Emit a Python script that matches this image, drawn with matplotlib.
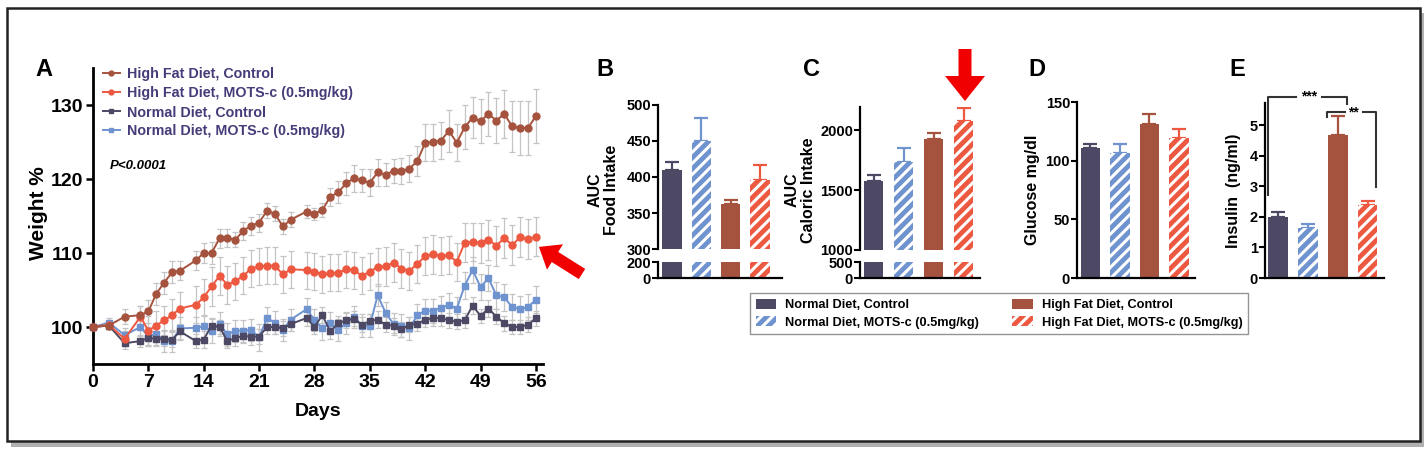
import matplotlib
matplotlib.use("Agg")
import matplotlib.pyplot as plt
from matplotlib.lines import Line2D
from matplotlib.patches import Patch, Rectangle, FancyArrow
from matplotlib.transforms import IdentityTransform

plt.rcParams["font.family"] = ["Liberation Sans", "DejaVu Sans"]
plt.rcParams["font.weight"] = "bold"
plt.rcParams["axes.labelweight"] = "bold"
plt.rcParams["hatch.linewidth"] = 2.2

# ---- Panel A: body weight (% of day 0) ----
days = [0, 2, 4, 6, 7, 8, 9, 10, 11, 13, 14, 15, 16, 17, 18, 19, 20, 21, 22, 23, 24, 25,
        27, 28, 29, 30, 31, 32, 33, 34, 35, 36, 37, 38, 39, 40, 41, 42, 43, 44, 45, 46,
        47, 48, 49, 50, 51, 52, 53, 54, 55, 56]

hfd_ctrl = [100.0, 100.2, 101.4, 101.6, 102.1, 104.5, 106.0, 107.4, 107.6,
            109.0, 110.0, 110.0, 112.0, 112.0, 111.8, 113.0, 113.7, 114.1, 115.7, 115.3, 113.6, 114.5,
            115.6, 115.3, 115.8, 117.6, 118.2, 119.4, 120.1, 119.8, 119.5, 120.9, 120.6, 121.1, 121.1,
            121.4, 122.4, 124.9, 125.0, 125.2, 126.5, 124.9, 127.0, 128.3, 127.8, 128.8, 127.9, 128.8,
            127.1, 126.9, 126.9, 128.5]
hfd_ctrl_err = [0, 0.5, 1.0, 1.3, 1.5, 1.5, 1.5, 1.5, 1.3,
                1.3, 1.4, 1.5, 1.3, 1.2, 1.0, 1.2, 1.2, 1.2, 1.0, 1.0, 1.0, 1.0,
                0.9, 0.8, 1.0, 1.2, 1.5, 1.6, 1.8, 1.6, 1.8, 1.8, 1.6, 1.6, 1.8, 1.8, 2.0, 2.5,
                2.5, 2.5, 2.8, 2.5, 3.0, 2.8, 3.0, 3.0, 3.0, 3.2, 3.5, 3.6, 3.6, 3.6]

hfd_mots = [100.0, 100.3, 98.4, 101.4, 99.5, 100.2, 100.9, 101.6, 102.5,
            103.0, 104.0, 105.5, 106.9, 105.7, 106.2, 106.9, 107.9, 108.2, 108.3, 108.3, 107.1, 107.8,
            107.7, 107.5, 107.1, 107.3, 107.3, 107.8, 107.7, 106.9, 107.5, 108.1, 108.2, 108.7, 107.9,
            107.6, 108.5, 109.6, 109.8, 109.6, 109.7, 108.8, 111.4, 111.5, 111.4, 111.8, 111.0, 112.0,
            111.1, 112.1, 111.9, 112.2]
hfd_mots_err = [0, 0.5, 1.0, 1.5, 2.0, 2.0, 2.0, 2.2, 2.2,
                2.5, 2.5, 2.6, 2.6, 2.6, 2.5, 2.5, 2.5, 2.5, 2.5, 2.5, 2.5, 2.5,
                2.5, 2.5, 2.5, 2.5, 2.5, 2.5, 2.5, 2.5, 2.5, 2.6, 2.6, 2.6, 2.6, 2.6, 2.6, 2.6,
                2.6, 2.6, 2.6, 2.6, 2.6, 2.6, 2.7, 2.7, 2.7, 2.7, 2.7, 2.7, 2.7, 2.6]

nd_ctrl = [100.0, 100.2, 97.8, 98.1, 98.5, 98.4, 98.4, 98.3, 99.4,
           98.1, 98.3, 100.2, 100.0, 98.1, 98.5, 98.8, 98.7, 98.7, 100.0, 100.0, 99.8, 100.4,
           101.2, 100.0, 101.6, 99.4, 100.5, 100.9, 101.1, 100.3, 100.8, 101.0, 100.3, 100.2, 99.7,
           100.3, 100.4, 101.0, 101.2, 101.2, 100.9, 100.7, 100.9, 102.9, 101.5, 102.5, 101.4, 100.5,
           100.0, 100.0, 100.3, 101.2]
nd_ctrl_err = [0, 0.5, 0.8, 0.8, 0.9, 0.9, 1.0, 1.0, 1.0,
               1.0, 1.1, 1.0, 0.9, 1.0, 1.0, 1.0, 1.1, 1.0, 1.0, 0.9, 1.0, 1.0,
               1.0, 1.0, 1.1, 1.0, 1.0, 1.0, 1.0, 1.0, 1.0, 1.1, 1.0, 1.0, 1.0, 1.0, 1.0, 1.0,
               1.0, 1.0, 1.0, 1.0, 1.0, 1.2, 1.0, 1.2, 1.0, 1.0, 1.0, 1.0, 1.0, 1.0]

nd_mots = [100.0, 100.6, 98.9, 100.0, 98.7, 99.1, 98.1, 98.1, 99.8,
           99.9, 100.1, 99.5, 100.4, 99.0, 99.5, 99.5, 99.6, 98.6, 101.2, 100.6, 99.6, 101.0,
           102.4, 101.0, 99.8, 100.5, 99.6, 100.5, 101.4, 100.2, 100.2, 104.3, 101.9, 100.4, 100.2,
           99.8, 101.6, 102.2, 102.2, 102.6, 103.0, 102.5, 105.6, 107.7, 105.4, 106.6, 104.3, 104.0,
           102.7, 102.4, 102.7, 103.7]
nd_mots_err = [0, 0.6, 1.0, 1.2, 1.3, 1.5, 1.5, 1.5, 1.5,
               1.5, 1.5, 1.6, 1.6, 1.5, 1.5, 1.5, 1.5, 1.8, 1.5, 1.5, 1.5, 1.5,
               1.5, 1.5, 1.5, 1.5, 1.5, 1.5, 1.5, 1.5, 1.5, 1.5, 1.5, 1.5, 1.5, 1.5, 1.5, 1.6,
               1.6, 1.6, 1.6, 1.6, 1.8, 1.8, 1.8, 1.8, 1.8, 1.8, 1.8, 1.8, 1.8, 1.8]

# ---- Panels B-E: group means and SEM ----
groups = ["Normal Diet, Control", "Normal Diet, MOTS-c (0.5mg/kg)",
          "High Fat Diet, Control", "High Fat Diet, MOTS-c (0.5mg/kg)"]
food_auc = [410, 450, 363, 396]
food_err = [11, 32, 5, 21]
cal_auc = [1575, 1730, 1922, 2075]
cal_err = [47, 123, 50, 105]
glucose = [110.5, 106.2, 131.0, 119.7]
glucose_err = [4.1, 7.6, 8.5, 7.1]
insulin = [2.0, 1.63, 4.69, 2.38]
insulin_err = [0.15, 0.12, 0.6, 0.15]

C_ND = "#4d4964"
C_NDM = "#6f93cf"
C_HFD = "#a5533e"
C_HFDM = "#ec5840"
LEG_TXT = "#463c7a"

W, H = 1428, 454


def box(x0, y0, x1, y1):
    return [x0 / W, 1 - y1 / H, (x1 - x0) / W, (y1 - y0) / H]


def px(x, y):
    return x / W, 1 - y / H


fig = plt.figure(figsize=(W / 100, H / 100), dpi=100)

# outer frame with shadow
fig.patches.append(Rectangle((11, 454 - 447), 1413, 434, transform=IdentityTransform(),
                             facecolor="#b0b0b0", edgecolor="none", zorder=-10))
fig.patches.append(Rectangle((7, 454 - 441), 1413, 433, transform=IdentityTransform(),
                             facecolor="white", edgecolor="#222222", lw=1.8, zorder=-9))

# ---------------- Panel A ----------------
axA = fig.add_axes(box(93, 68, 543, 364))
series = [
    (hfd_ctrl, hfd_ctrl_err, C_HFD, "o", "High Fat Diet, Control"),
    (hfd_mots, hfd_mots_err, C_HFDM, "o", "High Fat Diet, MOTS-c (0.5mg/kg)"),
    (nd_ctrl, nd_ctrl_err, C_ND, "s", "Normal Diet, Control"),
    (nd_mots, nd_mots_err, C_NDM, "s", "Normal Diet, MOTS-c (0.5mg/kg)"),
]
for vals, errs, col, mk, lab in series:
    axA.errorbar(days, vals, yerr=errs, fmt="none", ecolor="#c4c4c4",
                 elinewidth=0.9, capsize=2, capthick=0.9, zorder=1)
handles = []
for vals, errs, col, mk, lab in series[::-1]:
    axA.plot(days, vals, color=col, marker=mk, ms=5, lw=1.4, zorder=3, clip_on=False)
for vals, errs, col, mk, lab in series:
    handles.append(Line2D([0], [0], color=col, marker=mk, ms=3.5, lw=1.4, label=lab))

axA.set_xlim(0, 56.9)
axA.set_ylim(95, 135)
axA.set_xticks(range(0, 57, 7))
axA.set_yticks([100, 110, 120, 130])
for s in ["top", "right"]:
    axA.spines[s].set_visible(False)
for s in ["left", "bottom"]:
    axA.spines[s].set_linewidth(2)
axA.tick_params(direction="out", length=5, width=1.8, labelsize=14, pad=2)
axA.set_xlabel("Days", fontsize=14, labelpad=9)
axA.set_ylabel("Weight %", fontsize=15)
axA.yaxis.set_label_coords(-0.1, 0.51)

legA = fig.legend(handles=handles, loc="upper left", bbox_to_anchor=px(97, 61),
                  frameon=False, fontsize=10.3, handlelength=1.2, handletextpad=0.5,
                  labelspacing=0.36, borderaxespad=0)
for t in legA.get_texts():
    t.set_color(LEG_TXT)

fig.text(*px(110, 166), "P<0.0001", fontsize=9.5, style="italic", va="center", ha="left")
fig.text(*px(44, 70), "A", fontsize=17, va="center", ha="center")

# arrow pointing at the last MOTS-c point
fig.patches.append(FancyArrow(582, 454 - 274, -27, 17, width=12, head_width=30,
                              head_length=19, length_includes_head=False,
                              transform=IdentityTransform(), color="#f00000", lw=0))

# ---------------- bar panels ----------------
xpos = [0, 1, 2, 3]
colors = [C_ND, C_NDM, C_HFD, C_HFDM]
hatched = [False, True, False, True]


def draw_bars(ax, vals, errs=None):
    for x, v, c, h in zip(xpos, vals, colors, hatched):
        if h:
            ax.bar(x, v, width=0.66, color=c, edgecolor="white", hatch="///", lw=0, zorder=2)
        else:
            ax.bar(x, v, width=0.66, color=c, lw=0, zorder=2)
        if errs is not None:
            e = errs[xpos.index(x)]
            ax.errorbar(x, v, yerr=[[0], [e]], fmt="none", ecolor=c, elinewidth=1.6,
                        capsize=5, capthick=1.6, zorder=1)


def style_bar_ax(ax, bottom=True):
    ax.spines["top"].set_visible(False)
    ax.spines["right"].set_visible(False)
    ax.spines["bottom"].set_visible(bottom)
    for s in ["left", "bottom"]:
        ax.spines[s].set_linewidth(1.6)
    ax.set_xticks([])
    ax.tick_params(axis="y", direction="out", length=4, width=1.5, labelsize=10.5, pad=1)
    ax.patch.set_alpha(0)


# Panel B (broken axis)
bU = fig.add_axes(box(658, 105, 782, 249))
bL = fig.add_axes(box(658, 262, 782, 278))
draw_bars(bU, food_auc, food_err)
draw_bars(bL, food_auc)
bU.set_ylim(300, 500)
bU.set_yticks([300, 350, 400, 450, 500])
bL.set_ylim(0, 200)
bL.set_yticks([0, 200])
for a in (bU, bL):
    a.set_xlim(-0.48, 3.75)
style_bar_ax(bU, bottom=False)
style_bar_ax(bL)
fig.text(*px(603, 190), "AUC\nFood Intake", rotation=90, fontsize=11.5,
         ha="center", va="center", multialignment="center", linespacing=1.1)
fig.text(*px(605, 70), "B", fontsize=17, va="center", ha="center")

# Panel C (broken axis)
cU = fig.add_axes(box(860, 107, 980, 250))
cL = fig.add_axes(box(860, 262, 980, 278))
draw_bars(cU, cal_auc, cal_err)
draw_bars(cL, cal_auc)
cU.set_ylim(1000, 2192)
cU.set_yticks([1000, 1500, 2000])
cL.set_ylim(0, 500)
cL.set_yticks([0, 500])
for a in (cU, cL):
    a.set_xlim(-0.45, 3.55)
style_bar_ax(cU, bottom=False)
style_bar_ax(cL)
fig.text(*px(800, 190), "AUC\nCaloric Intake", rotation=90, fontsize=11.5,
         ha="center", va="center", multialignment="center", linespacing=1.1)
fig.text(*px(812, 70), "C", fontsize=17, va="center", ha="center")

# arrow pointing down at the HFD MOTS-c caloric intake bar
fig.patches.append(FancyArrow(965, 454 - 49, 0, -27, width=13, head_width=40,
                              head_length=25, length_includes_head=False,
                              transform=IdentityTransform(), color="#f00000", lw=0))

# Panel D
axD = fig.add_axes(box(1077, 102, 1195, 278))
draw_bars(axD, glucose, glucose_err)
axD.set_ylim(0, 150)
axD.set_yticks([0, 50, 100, 150])
axD.set_xlim(-0.45, 3.55)
style_bar_ax(axD)
axD.set_ylabel("Glucose mg/dl", fontsize=11.5, labelpad=4)
fig.text(*px(1037, 70), "D", fontsize=17, va="center", ha="center")

# Panel E
axE = fig.add_axes(box(1265, 103, 1384, 278))
draw_bars(axE, insulin, insulin_err)
axE.set_ylim(0, 5.72)
axE.set_yticks([0, 1, 2, 3, 4, 5])
axE.set_xlim(-0.43, 3.55)
style_bar_ax(axE)
axE.set_ylabel("Insulin  (ng/ml)", fontsize=11.5, labelpad=6)
fig.text(*px(1237, 70), "E", fontsize=17, va="center", ha="center")

br = dict(color="#333333", lw=1.5, clip_on=False, zorder=4)
axE.plot([-0.33, -0.33, 0.62], [2.71, 5.92, 5.92], **br)
axE.plot([1.48, 2.31, 2.31], [5.92, 5.92, 5.68], **br)
axE.text(1.05, 5.92, "***", ha="center", va="center", fontsize=10)
axE.plot([1.64, 1.64, 2.25], [5.26, 5.42, 5.42], **br)
axE.plot([2.85, 3.28, 3.28], [5.42, 5.42, 2.97], **br)
axE.text(2.53, 5.42, "**", ha="center", va="center", fontsize=10)

# shared legend for the bar panels
bar_handles = [Patch(facecolor=c, edgecolor="white" if h else c, hatch="///" if h else None,
                     lw=0, label=g) for c, h, g in zip(colors, hatched, groups)]
legB = fig.legend(handles=bar_handles, loc="upper left", bbox_to_anchor=px(750, 293),
                  ncol=2, fontsize=9.2, frameon=True, fancybox=False, borderaxespad=0,
                  handlelength=1.6, handleheight=0.8, handletextpad=0.7,
                  columnspacing=2.6, labelspacing=0.4, borderpad=0.45)
legB.get_frame().set_edgecolor("#7a7a7a")
legB.get_frame().set_linewidth(1.0)

fig.savefig("out.png", dpi=100)
